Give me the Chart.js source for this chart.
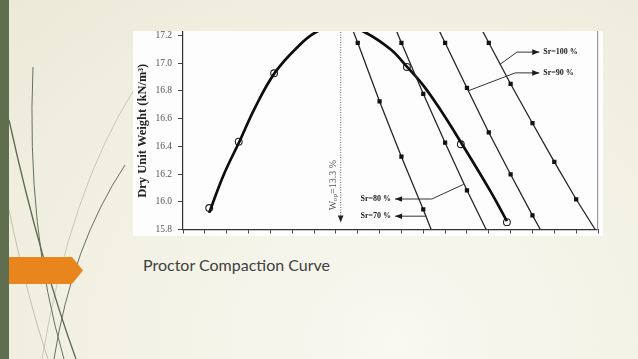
<!DOCTYPE html>
<html>
<head>
<meta charset="utf-8">
<script src="https://cdn.jsdelivr.net/npm/chart.js@4.4.1/dist/chart.umd.min.js"></script>
<style>
  html,body{margin:0;padding:0;}
  body{width:638px;height:359px;position:relative;overflow:hidden;
    background:radial-gradient(ellipse at 62% 95%, #f9f8f1 0%, #f3f2e6 45%, #ebead8 100%);}
  #grass{position:absolute;left:0;top:0;}
  #bar{position:absolute;left:0;top:0;width:9px;height:359px;background:#5f6e4f;}
  #arrow{position:absolute;left:0;top:257px;width:83px;height:27px;background:#e8851c;
    clip-path:polygon(0 0,72px 0,100% 50%,72px 100%,0 100%);}
  #frame{position:absolute;left:133px;top:31px;width:470px;height:205px;background:#fdfdfd;}
  #chart{position:absolute;left:133px;top:27px;display:block;}
  #caption{position:absolute;left:143px;top:255px;font-family:Lato,"Open Sans",sans-serif;
    font-size:16px;line-height:20px;color:#404040;}
</style>
</head>
<body>
<svg id="grass" width="638" height="359">
  <path d="M135,88 Q70,190 42,359" stroke="#c9cab6" stroke-width="1" fill="none"/>
  <path d="M33,67 Q26,230 64,359" stroke="#64735a" stroke-width="1" fill="none"/>
  <path d="M125,165 Q72,245 54,359" stroke="#64735a" stroke-width="1" fill="none"/>
  <path d="M9,120 Q40,260 76,359" stroke="#5a6a4c" stroke-width="1.3" fill="none"/>
  <path d="M9,210 Q28,300 48,359" stroke="#c0c2ad" stroke-width="1" fill="none"/>
</svg>
<div id="arrow"></div>
<div id="bar"></div>
<div id="frame"></div>
<canvas id="chart" width="470" height="209"></canvas>
<div id="caption">Proctor Compaction Curve</div>
<script>
// axis ranges and tick labels
const xMin = 6, xMax = 25;
const yMin = 15.8, yMax = 17.225;
const yTicks = [15.8, 16.0, 16.2, 16.4, 16.6, 16.8, 17.0, 17.2];
const yTickLabels = ['15.8','16.0','16.2','16.4','16.6','16.8','17.0','17.2'];

// compaction test points (water content %, dry unit weight kN/m3)
const testW = [7.2, 8.55, 10.17, 16.25, 18.72, 20.83];
const testGamma = [15.955, 16.434, 16.927, 16.973, 16.415, 15.853];

// fitted compaction curve
const curveW = [7.2, 7.85, 8.6, 9.3, 10.2, 11.2, 12.1, 13.2, 14.3, 15.5, 16.25, 17.0, 17.8, 18.72, 20.06, 20.83];
const curveGamma = [15.92, 16.19, 16.44, 16.68, 16.93, 17.11, 17.225, 17.275, 17.225, 17.10, 16.975, 16.84, 16.66, 16.43, 16.08, 15.86];

// degree of saturation lines
const sr70W = [13.72, 14, 15, 16, 17, 17.36];
const sr70Gamma = [17.26, 17.147, 16.724, 16.325, 15.945, 15.8];
const sr80W = [15.7, 16, 17, 18, 19, 19.88];
const sr80Gamma = [17.26, 17.147, 16.779, 16.426, 16.083, 15.8];
const sr90W = [17.65, 18, 19, 20, 21, 22, 22.36];
const sr90Gamma = [17.26, 17.147, 16.821, 16.5, 16.197, 15.902, 15.8];
const sr100W = [19.62, 20, 21, 22, 23, 24, 24.87];
const sr100Gamma = [17.26, 17.147, 16.85, 16.567, 16.288, 16.018, 15.8];

const wop = 13.22;
const wopText = ['W', 'op', '=13.3 %'];

const toPts = (ws, gs) => ws.map((w, i) => ({x: w, y: gs[i]}));

function srLine(ws, gs){
  return {
    data: toPts(ws, gs),
    showLine: true,
    borderColor: '#262626',
    borderWidth: 1.3,
    tension: 0,
    pointStyle: 'rect',
    pointRadius: ctx => (ctx.dataIndex === 0 || ctx.dataIndex === ws.length - 1) ? 0 : 3,
    pointBackgroundColor: '#111',
    pointBorderColor: '#111',
    pointBorderWidth: 0,
    clip: 0
  };
}

// leader lines for the Sr labels (data units), last point is the arrow tip
const leaders = [
  {text:'Sr=100 %', w:[20.5, 21.29, 22.31], g:[16.99, 17.08, 17.08], dir: 1},
  {text:'Sr=90 %',  w:[19.05, 21.21, 22.31], g:[16.80, 16.93, 16.93], dir: 1},
  {text:'Sr=80 %',  w:[18.85, 17.39, 15.71], g:[16.126, 16.02, 16.02], dir: -1},
  {text:'Sr=70 %',  w:[17.12, 15.71], g:[15.896, 15.896], dir: -1}
];

function arrowHead(ctx, tx, ty, dx, dy){
  const L = 7, H = 2.8;
  const bx = tx - dx*L, by = ty - dy*L;
  ctx.beginPath();
  ctx.moveTo(tx, ty);
  ctx.lineTo(bx - dy*H, by + dx*H);
  ctx.lineTo(bx + dy*H, by - dx*H);
  ctx.closePath();
  ctx.fill();
}

const annot = {
  id: 'annot',
  afterDatasetsDraw(chart){
    const {ctx, chartArea, scales:{x, y}} = chart;
    const px = v => x.getPixelForValue(v), py = v => y.getPixelForValue(v);
    ctx.save();

    // optimum water content marker
    const xw = px(wop), tipY = py(15.85);
    ctx.strokeStyle = '#666';
    ctx.lineWidth = 1;
    ctx.setLineDash([1, 1.5]);
    ctx.beginPath();
    ctx.moveTo(xw, chartArea.top);
    ctx.lineTo(xw, tipY - 6);
    ctx.stroke();
    ctx.setLineDash([]);
    ctx.fillStyle = '#222';
    arrowHead(ctx, xw, tipY, 0, 1);

    ctx.save();
    ctx.translate(px(12.87), py(16.12));
    ctx.rotate(-Math.PI/2);
    ctx.fillStyle = '#555';
    ctx.textBaseline = 'middle';
    const big = '10px "Liberation Serif"', small = '7px "Liberation Serif"';
    ctx.font = big; const w0 = ctx.measureText(wopText[0]).width, w2 = ctx.measureText(wopText[2]).width;
    ctx.font = small; const w1 = ctx.measureText(wopText[1]).width;
    let sx = -(w0 + w1 + w2)/2;
    ctx.font = big; ctx.fillText(wopText[0], sx, 0); sx += w0;
    ctx.font = small; ctx.fillText(wopText[1], sx, 2.5); sx += w1;
    ctx.font = big; ctx.fillText(wopText[2], sx, 0);
    ctx.restore();

    // Sr labels
    ctx.strokeStyle = '#333';
    ctx.fillStyle = '#1a1a1a';
    ctx.lineWidth = 1;
    ctx.font = 'bold 8px "Liberation Serif"';
    ctx.textBaseline = 'middle';
    leaders.forEach(l => {
      ctx.beginPath();
      l.w.forEach((w, i) => {
        const X = px(w), Y = py(l.g[i]);
        if(i === 0) ctx.moveTo(X, Y); else ctx.lineTo(X, Y);
      });
      ctx.stroke();
      const tx = px(l.w[l.w.length-1]), ty = py(l.g[l.g.length-1]);
      arrowHead(ctx, tx, ty, l.dir, 0);
      ctx.textAlign = l.dir > 0 ? 'left' : 'right';
      ctx.fillText(l.text, tx + l.dir*4, ty);
    });
    ctx.restore();
  }
};

new Chart(document.getElementById('chart'), {
  type: 'scatter',
  data: {
    datasets: [
      srLine(sr70W, sr70Gamma),
      srLine(sr80W, sr80Gamma),
      srLine(sr90W, sr90Gamma),
      srLine(sr100W, sr100Gamma),
      {
        data: toPts(curveW, curveGamma),
        showLine: true,
        borderColor: '#0d0d0d',
        borderWidth: 2.7,
        tension: 0.4,
        pointRadius: 0,
        clip: 0
      },
      {
        data: toPts(testW, testGamma),
        showLine: false,
        pointRadius: 3.4,
        pointBackgroundColor: '#fff',
        pointBorderColor: '#222',
        pointBorderWidth: 1.1
      }
    ]
  },
  options: {
    responsive: false,
    animation: false,
    layout: {padding: {top: 5, left: 0, right: 0, bottom: 0}, autoPadding: false},
    plugins: {legend: {display: false}, tooltip: {enabled: false}},
    scales: {
      x: {
        type: 'linear', min: xMin, max: xMax,
        ticks: {display: false, stepSize: 1},
        grid: {drawOnChartArea: false, tickLength: 4, color: '#444'},
        border: {color: '#333', width: 1.2},
        afterFit(s){ s.height = 6.5; s.paddingLeft = 0; s.paddingRight = 0; }
      },
      y: {
        min: yMin, max: yMax,
        afterBuildTicks(s){ s.ticks = yTicks.map(v => ({value: v})); },
        ticks: {
          callback: (v, i) => yTickLabels[i],
          font: {family: 'Liberation Serif', size: 9.5, lineHeight: 0.3},
          color: '#555', padding: 6
        },
        grid: {drawOnChartArea: false, tickLength: 5, color: '#444'},
        border: {color: '#333', width: 1.2},
        title: {
          display: true, text: 'Dry Unit Weight (kN/m³)',
          font: {family: 'Liberation Serif', size: 12.5, weight: 'bold'},
          color: '#222', padding: {top: 2, bottom: 0}
        },
        afterFit(s){ s.width = 50; s.paddingTop = 0; s.paddingBottom = 0; }
      },
      yr: {
        position: 'right', min: yMin, max: yMax,
        ticks: {display: false},
        grid: {display: false},
        border: {color: '#999', width: 1.2},
        afterFit(s){ s.width = 5; s.paddingTop = 0; s.paddingBottom = 0; }
      }
    }
  },
  plugins: [annot]
});
</script>
</body>
</html>
